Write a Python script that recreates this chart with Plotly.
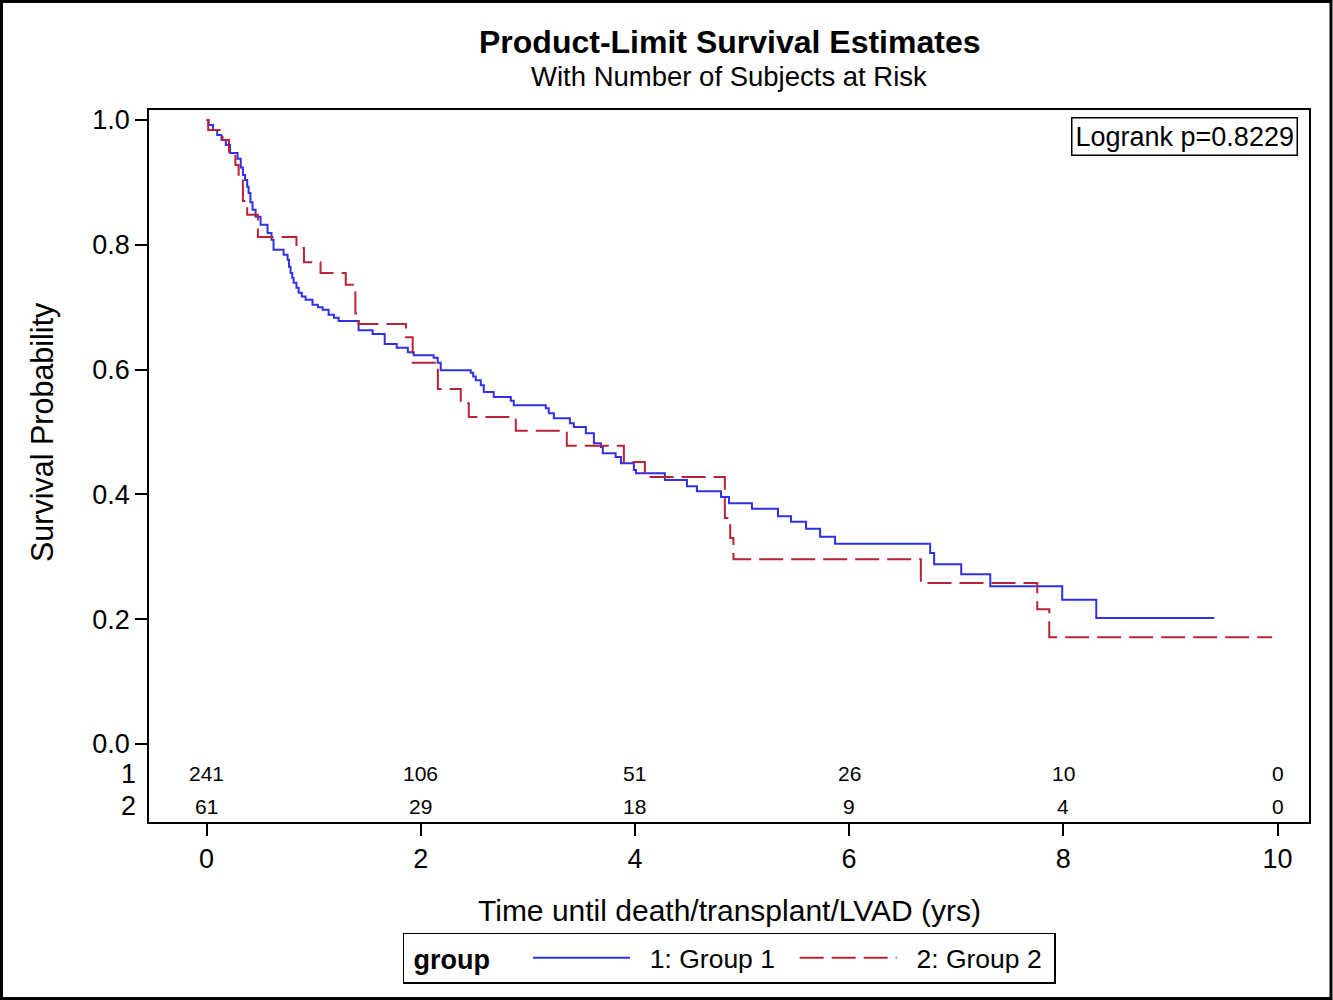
import plotly.graph_objects as go

# ---------------- data ----------------
g1_time = [0, 0.02, 0.06, 0.10, 0.14, 0.18, 0.22, 0.29, 0.32, 0.34, 0.36, 0.38, 0.393, 0.41, 0.43,
           0.458, 0.505, 0.57, 0.607, 0.626, 0.72, 0.757, 0.77, 0.785, 0.80, 0.813, 0.84, 0.86, 0.89,
           0.925, 0.99, 1.04, 1.084, 1.14, 1.19, 1.234, 1.42, 1.551, 1.664, 1.776, 1.88, 1.935, 2.121,
           2.159, 2.187, 2.467, 2.49, 2.514, 2.561, 2.589, 2.682, 2.841, 2.869, 3.168, 3.196, 3.243,
           3.393, 3.43, 3.542, 3.617, 3.682, 3.70, 3.82, 3.87, 3.99, 4.01, 4.28, 4.486, 4.579, 4.804,
           4.879, 5.093, 5.336, 5.458, 5.598, 5.729, 5.869, 6.757, 6.794, 7.047, 7.318, 7.99, 8.308]
g1_surv = [1.0, 0.992, 0.984, 0.976, 0.968, 0.960, 0.947, 0.938, 0.924, 0.912, 0.904, 0.893, 0.883,
           0.868, 0.856, 0.845, 0.832, 0.819, 0.808, 0.792, 0.784, 0.776, 0.765, 0.755, 0.747, 0.739,
           0.731, 0.723, 0.717, 0.712, 0.704, 0.700, 0.696, 0.688, 0.683, 0.678, 0.663, 0.657, 0.641,
           0.635, 0.628, 0.623, 0.619, 0.611, 0.599, 0.595, 0.589, 0.583, 0.575, 0.564, 0.556, 0.55,
           0.543, 0.538, 0.53, 0.522, 0.514, 0.508, 0.498, 0.482, 0.476, 0.466, 0.46, 0.45, 0.439,
           0.434, 0.423, 0.413, 0.405, 0.396, 0.386, 0.377, 0.365, 0.356, 0.345, 0.332, 0.321, 0.306,
           0.288, 0.272, 0.253, 0.231, 0.202]
g1_end = 9.41

g2_time = [0, 0.016, 0.15, 0.21, 0.27, 0.30, 0.34, 0.38, 0.48, 0.84, 0.91, 1.065, 1.30, 1.39, 1.42,
           1.863, 1.925, 2.16, 2.374, 2.449, 2.888, 3.364, 3.897, 4.093, 4.84, 4.89, 4.92, 6.67,
           7.757, 7.869]
g2_surv = [1.0, 0.984, 0.968, 0.949, 0.928, 0.905, 0.87, 0.848, 0.8125, 0.795, 0.772, 0.755, 0.736,
           0.69, 0.673, 0.652, 0.611, 0.569, 0.546, 0.524, 0.502, 0.478, 0.452, 0.428, 0.362, 0.33,
           0.296, 0.258, 0.216, 0.171]
g2_end = 9.95

group_names = ["1: Group 1", "2: Group 2"]
risk_times = [0, 2, 4, 6, 8, 10]
risk_g1 = [241, 106, 51, 26, 10, 0]
risk_g2 = [61, 29, 18, 9, 4, 0]
risk_rows = ["1", "2"]
risk_row_y = [-0.048, -0.0994]

y_ticks = [0.0, 0.2, 0.4, 0.6, 0.8, 1.0]
x_ticks = [0, 2, 4, 6, 8, 10]

FONT = "Liberation Sans, Arial, sans-serif"
BLUE = "#3030E6"
RED = "#BA2238"
NB = "\u00a0"

# ---------------- figure ----------------
W, H = 1333, 1000
L, R, T, B = 149, 24, 110, 178
PW, PH = W - L - R, H - T - B

def px_x(px):
    return (px - L) / PW

def px_y(py):
    return (H - B - py) / PH

fig = go.Figure()
fig.add_trace(go.Scatter(
    x=g1_time + [g1_end], y=g1_surv + [g1_surv[-1]],
    mode="lines", line=dict(shape="hv", color=BLUE, width=2),
    name=NB * 2 + group_names[0] + NB * 2))
fig.add_trace(go.Scatter(
    x=g2_time + [g2_end], y=g2_surv + [g2_surv[-1]],
    mode="lines", line=dict(shape="hv", color=RED, width=2, dash="24px,8px"),
    name=NB * 2 + group_names[1] + NB))

annotations = []
# at-risk table
for row_vals, yv in zip([risk_g1, risk_g2], risk_row_y):
    for t, v in zip(risk_times, row_vals):
        annotations.append(dict(x=t, y=yv, xref="x", yref="y", text=str(v), showarrow=False,
                                font=dict(size=21, color="black", family=FONT),
                                xanchor="center", yanchor="middle"))
for lab, yv in zip(risk_rows, risk_row_y):
    annotations.append(dict(x=px_x(138), y=yv, xref="paper", yref="y", text=lab, showarrow=False,
                            font=dict(size=27, color="black", family=FONT),
                            xanchor="right", yanchor="middle"))
# titles
annotations.append(dict(x=0.5, y=px_y(42), xref="paper", yref="paper",
                        text="<b>Product-Limit Survival Estimates</b>", showarrow=False,
                        font=dict(size=32, color="black", family=FONT),
                        xanchor="center", yanchor="middle"))
annotations.append(dict(x=0.5, y=px_y(77), xref="paper", yref="paper",
                        text="With Number of Subjects at Risk", showarrow=False,
                        font=dict(size=27.5, color="black", family=FONT),
                        xanchor="center", yanchor="middle"))
annotations.append(dict(x=0.5, y=px_y(910), xref="paper", yref="paper",
                        text="Time until death/transplant/LVAD (yrs)", showarrow=False,
                        font=dict(size=30, color="black", family=FONT),
                        xanchor="center", yanchor="middle"))
annotations.append(dict(x=px_x(42), y=0.5, xref="paper", yref="y",
                        text="Survival Probability", showarrow=False, textangle=-90,
                        font=dict(size=30.5, color="black", family=FONT),
                        xanchor="center", yanchor="middle"))
# logrank inset
annotations.append(dict(x=px_x(1298), y=px_y(117), xref="paper", yref="paper",
                        text="Logrank p=0.8229", showarrow=False,
                        font=dict(size=27, color="black", family=FONT),
                        xanchor="right", yanchor="top", bordercolor="black", borderwidth=1.5,
                        borderpad=3, bgcolor="white"))

shapes = [
    dict(type="rect", xref="paper", yref="paper",
         x0=px_x(1.5), x1=px_x(1331), y0=px_y(998.5), y1=px_y(1.5),
         line=dict(color="black", width=3), fillcolor="rgba(0,0,0,0)", layer="above"),
]

fig.update_layout(
    width=W, height=H,
    margin=dict(l=L, r=R, t=T, b=B, pad=0),
    paper_bgcolor="white", plot_bgcolor="white",
    font=dict(family=FONT, color="black", size=26),
    showlegend=True,
    legend=dict(
        orientation="h", x=0.5, xanchor="center", y=px_y(958), yanchor="middle",
        bordercolor="black", borderwidth=1.5, bgcolor="white",
        font=dict(size=26.5, family=FONT, color="black"),
        title=dict(text=NB + "<b>group</b>" + NB * 4,
                   font=dict(size=27, family=FONT, color="black"), side="left"),
        itemwidth=97, tracegroupgap=0,
    ),
    xaxis=dict(
        range=[(L - 206.5) / 107.1, (L + PW - 206.5) / 107.1],
        tickvals=x_ticks, ticktext=[str(v) for v in x_ticks],
        ticks="outside", ticklen=12, tickwidth=1.5, tickcolor="black",
        showline=True, linecolor="black", linewidth=1.5, mirror=True,
        showgrid=False, zeroline=False,
        tickfont=dict(size=27, family=FONT, color="black"),
    ),
    yaxis=dict(
        range=[(744 - (H - B)) / 624, (744 - T) / 624],
        tickvals=y_ticks, ticktext=["%.1f" % v for v in y_ticks],
        ticks="outside", ticklen=12, tickwidth=1.5, tickcolor="black",
        showline=True, linecolor="black", linewidth=1.5, mirror=True,
        showgrid=False, zeroline=False,
        tickfont=dict(size=27, family=FONT, color="black"),
    ),
    annotations=annotations,
    shapes=shapes,
)

fig.write_html("out.html", config={"displayModeBar": False},
               post_script="document.body.style.margin='0';")
